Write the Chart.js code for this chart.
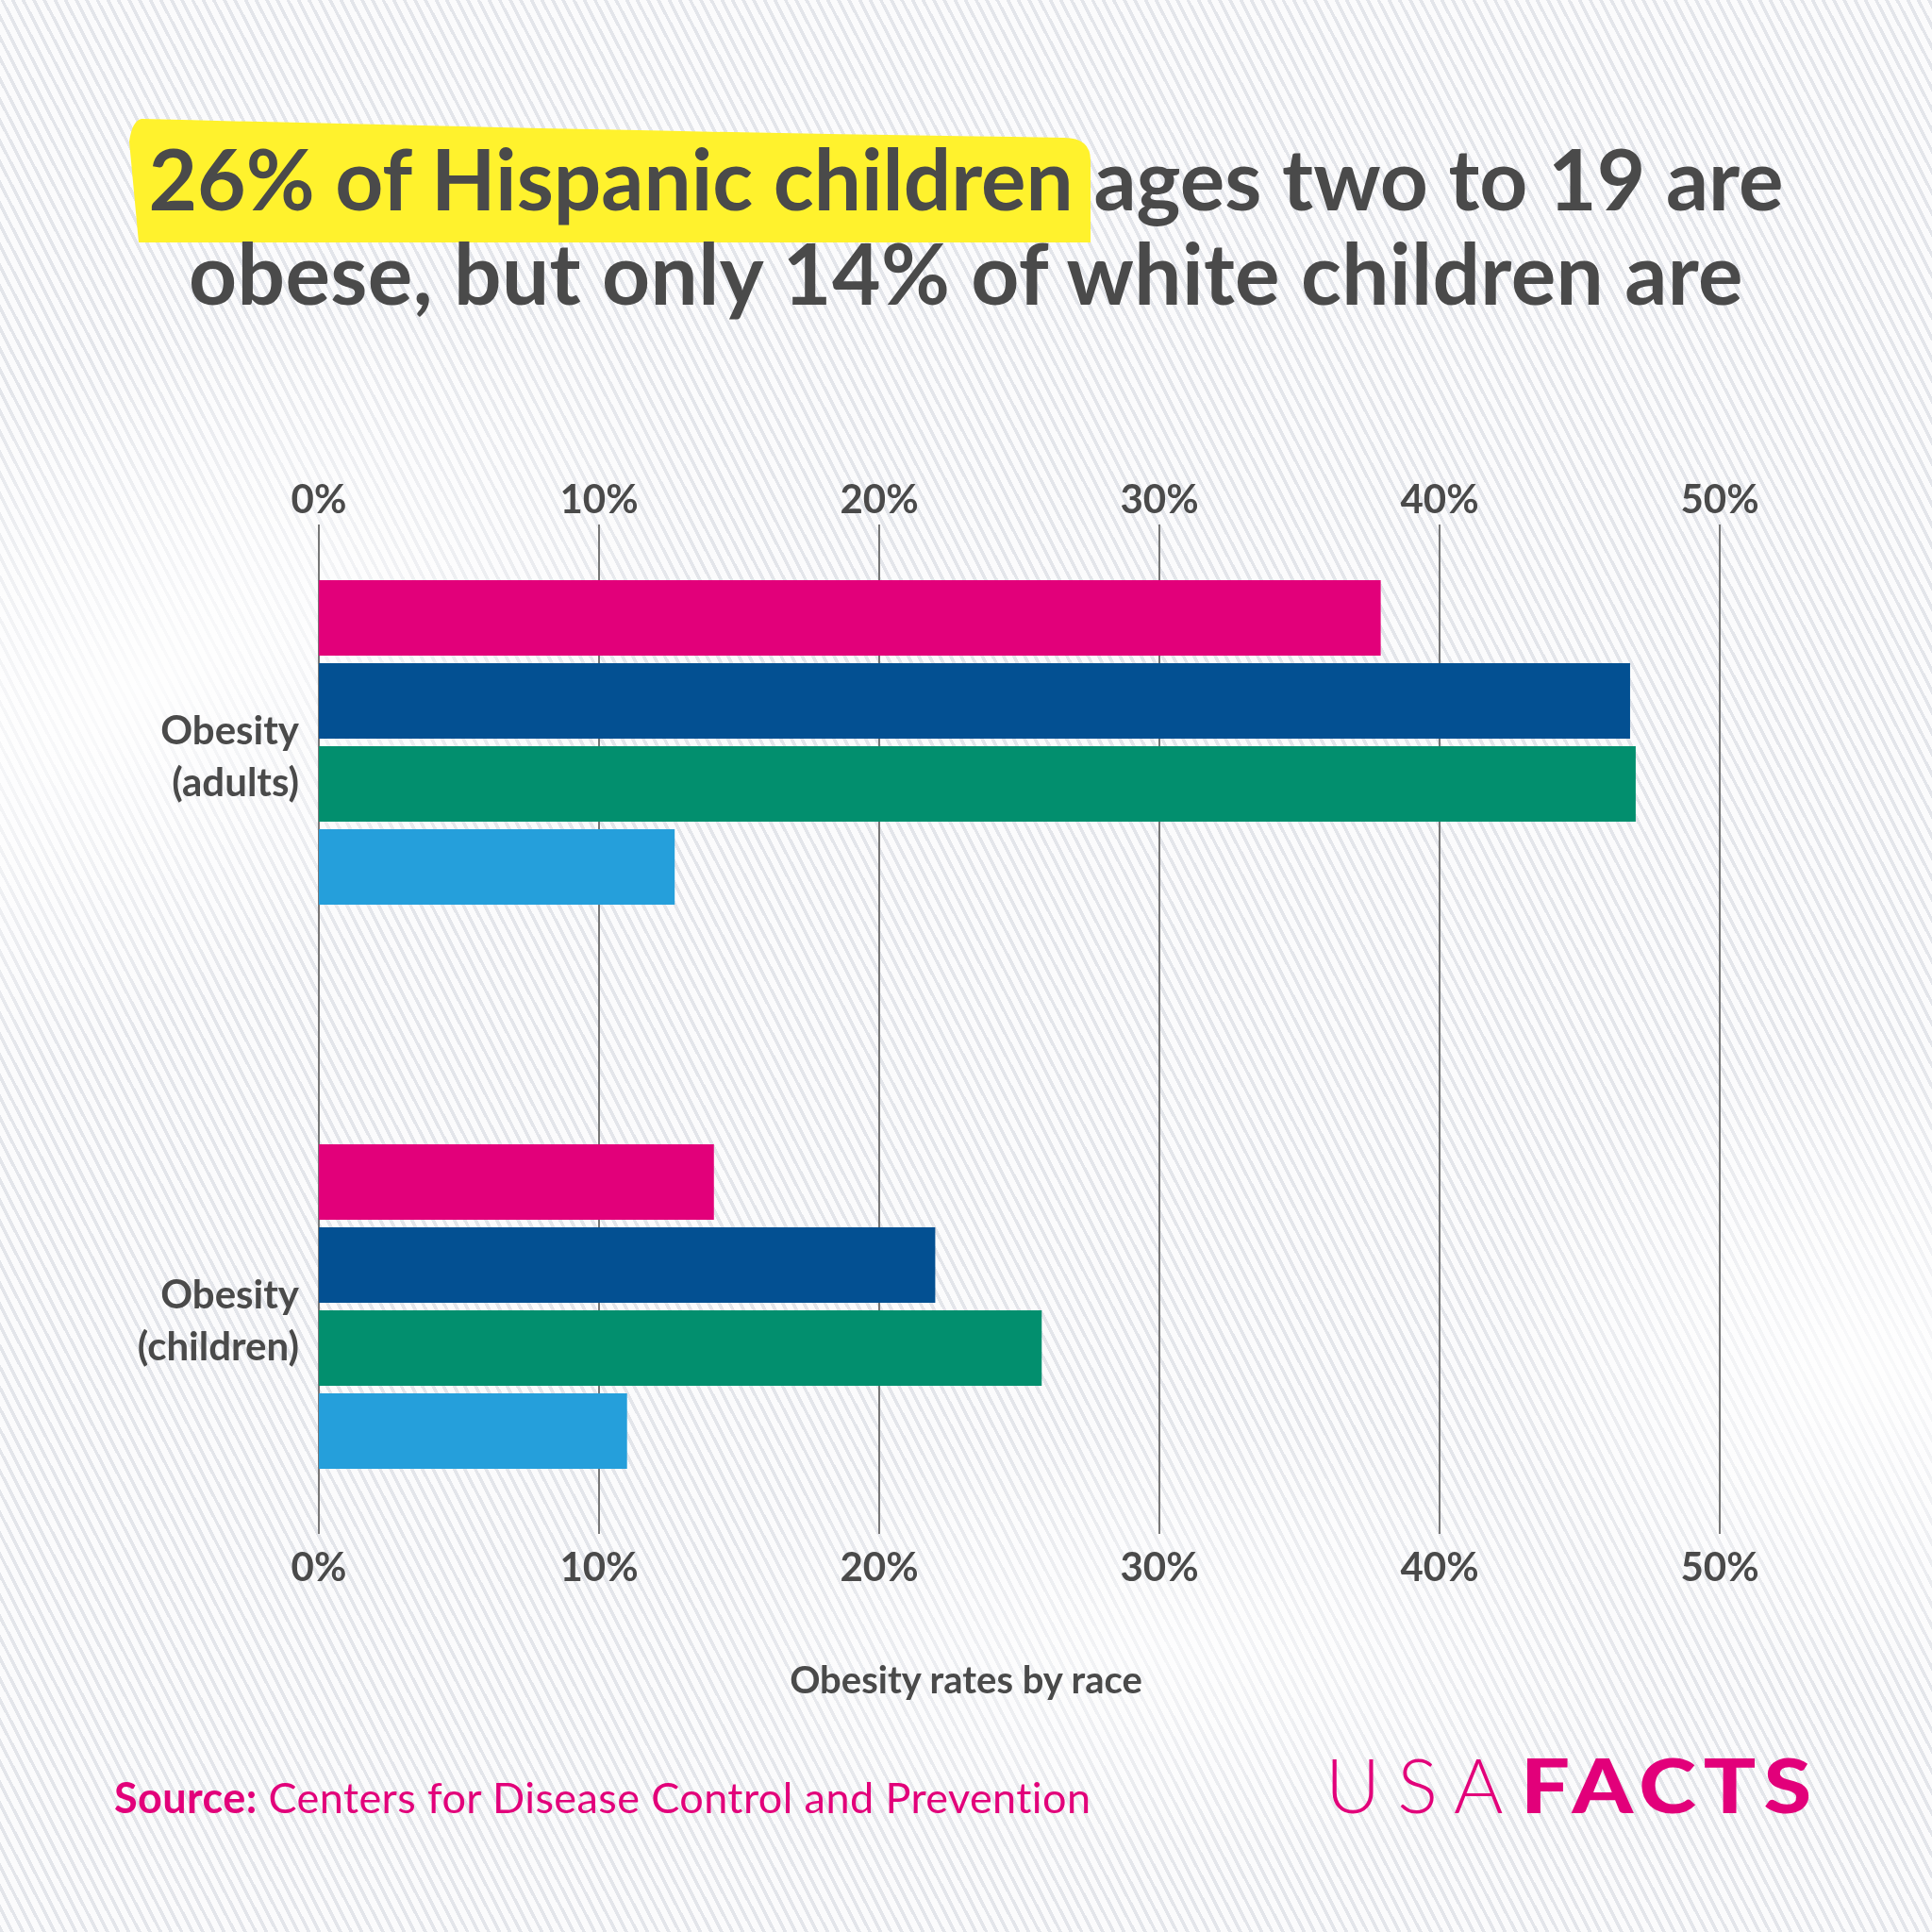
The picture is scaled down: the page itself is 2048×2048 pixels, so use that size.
<!DOCTYPE html>
<html>
<head>
<meta charset="utf-8">
<script src="https://cdn.jsdelivr.net/npm/chart.js@4.4.1/dist/chart.umd.min.js"></script>
<style>
  html, body { margin: 0; padding: 0; }
  #page {
    position: relative;
    width: 2048px;
    height: 2048px;
    overflow: hidden;
    font-family: Lato, "Open Sans", sans-serif;
    background: repeating-linear-gradient(63deg, #e3e5ea 0 3.5px, #fbfbfc 3.5px 10px);
  }
  .glow { position: absolute; pointer-events: none; }
  #title {
    position: absolute;
    left: 0;
    top: 139px;
    width: 2048px;
    text-align: center;
    font-size: 89px;
    line-height: 100px;
    font-weight: 700;
    color: #4a4a4a;
  }
  #title .l2 { letter-spacing: 0.4px; }
  #chartBox { position: absolute; left: 0; top: 0; width: 2048px; height: 2048px; }
  #axisTitle {
    position: absolute;
    left: 0;
    width: 2048px;
    top: 1755px;
    text-align: center;
    font-size: 40px;
    line-height: 50px;
    font-weight: 700;
    color: #4a4a4a;
  }
  #source {
    position: absolute;
    left: 121px;
    top: 1879px;
    font-size: 45px;
    line-height: 52px;
    letter-spacing: 0.4px;
    color: #e2007a;
    white-space: nowrap;
  }
  #source b { font-weight: 700; }
  #logo {
    position: absolute;
    left: 1405px;
    top: 1851px;
    font-size: 80px;
    line-height: 80px;
    color: #e2007a;
    white-space: nowrap;
  }
  #logo .usa { font-weight: 300; letter-spacing: 18px; }
  #logo .facts {
    display: inline-block;
    font-weight: 900;
    letter-spacing: 7px;
    transform: scaleX(1.15);
    transform-origin: left center;
  }
</style>
</head>
<body>
<div id="page">
  <div class="glow" style="left:-300px;top:330px;width:1100px;height:700px;background:radial-gradient(ellipse at 40% 50%, rgba(255,255,255,0.85), rgba(255,255,255,0) 70%);transform:rotate(-25deg);"></div>
  <div class="glow" style="left:1550px;top:1100px;width:700px;height:700px;background:radial-gradient(ellipse at 60% 50%, rgba(255,255,255,0.8), rgba(255,255,255,0) 70%);"></div>
  <div class="glow" style="left:700px;top:1500px;width:1100px;height:500px;background:radial-gradient(ellipse at 50% 50%, rgba(255,255,255,0.6), rgba(255,255,255,0) 70%);"></div>
  <svg style="position:absolute;left:0;top:0" width="2048" height="400">
    <path d="M150 126 Q140 128 137 150 L147 257 L1156 257 L1156 170 Q1156 146 1128 146 Q700 140 150 126 Z" fill="#fff22d"/>
  </svg>
  <div id="title">26% of Hispanic children ages two to 19 are<br><span class="l2">obese, but only 14% of white children are</span></div>
  <div id="chartBox"><canvas id="chart"></canvas></div>
  <div id="axisTitle"></div>
  <div id="source"><b>Source:</b> Centers for Disease Control and Prevention</div>
  <div id="logo"><span class="usa">USA</span><span class="facts">FACTS</span></div>
</div>
<script>
// Obesity rates by race, CDC
const categories = [['Obesity', '(adults)'], ['Obesity', '(children)']];
const seriesNames = ['White', 'Black', 'Hispanic', 'Asian'];
const whiteRates = [37.9, 14.1];
const blackRates = [46.8, 22.0];
const hispanicRates = [47.0, 25.8];
const asianRates = [12.7, 11.0];
const xTicks = [0, 10, 20, 30, 40, 50];
const axisTitle = 'Obesity rates by race';

const seriesColors = ['#e2007a', '#035092', '#028f6e', '#259fdb'];
const seriesData = [whiteRates, blackRates, hispanicRates, asianRates];

const textColor = '#4a4a4a';
const tickFont = { family: 'Lato', size: 42, weight: '700' };

document.getElementById('axisTitle').textContent = axisTitle;

// vertical grid lines stop short of the plot edges
const insetGrid = {
    id: 'insetGrid',
    beforeDatasetsDraw(chart) {
        const { ctx, chartArea, scales } = chart;
        const x = scales.x;
        ctx.save();
        ctx.strokeStyle = '#777777';
        ctx.lineWidth = 2;
        x.ticks.forEach(t => {
            const px = Math.round(x.getPixelForValue(t.value));
            ctx.beginPath();
            ctx.moveTo(px, chartArea.top + 68);
            ctx.lineTo(px, chartArea.bottom - 58);
            ctx.stroke();
        });
        ctx.restore();
    }
};

// tick labels sit inside the plot area, so the axes are mirrored and take no room
function xAxis(position, pad) {
    return {
        type: 'linear',
        position: position,
        axis: 'x',
        min: 0,
        max: 50,
        afterBuildTicks: scale => { scale.ticks = xTicks.map(v => ({ value: v })); },
        afterFit: scale => { scale.height = 0; },
        grid: { display: false, drawTicks: false },
        border: { display: false },
        ticks: {
            mirror: true,
            padding: pad,
            color: textColor,
            font: tickFont,
            callback: v => v + '%'
        }
    };
}

new Chart(document.getElementById('chart'), {
    type: 'bar',
    data: {
        labels: categories,
        datasets: seriesNames.map((name, i) => ({
            label: name,
            data: seriesData[i],
            backgroundColor: seriesColors[i],
            borderWidth: 0,
            categoryPercentage: 0.5886,
            barPercentage: 0.909
        }))
    },
    options: {
        indexAxis: 'y',
        responsive: true,
        maintainAspectRatio: false,
        animation: false,
        layout: { padding: { left: 60, right: 225, top: 488, bottom: 364 } },
        plugins: {
            legend: { display: false },
            tooltip: { enabled: false }
        },
        scales: {
            x: xAxis('top', 17),
            x2: xAxis('bottom', -4),
            y: {
                type: 'category',
                afterFit: scale => { scale.width = 278; },
                grid: { display: false, drawTicks: false },
                border: { display: false },
                ticks: {
                    padding: 21,
                    labelOffset: 16,
                    color: textColor,
                    font: { family: 'Lato', size: 42, weight: '700', lineHeight: 1.3 }
                }
            }
        }
    },
    plugins: [insetGrid]
});
</script>
</body>
</html>
